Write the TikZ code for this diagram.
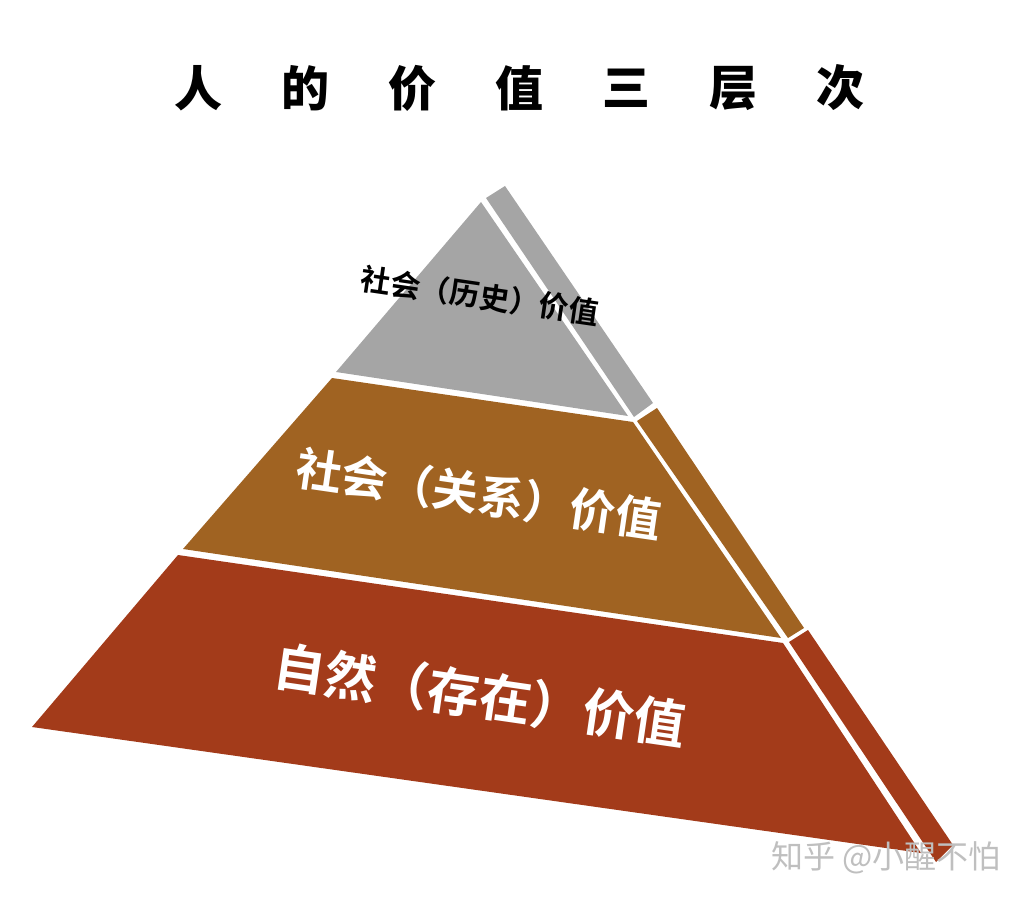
\documentclass[tikz,border=0pt]{standalone}
\usepackage{fontspec}
\newfontfamily\cjk{Noto Sans CJK SC}[BoldFont={Noto Sans CJK SC Bold}]
\newfontfamily\cjkheavy{Noto Sans CJK SC Black}
\definecolor{stoneGray}{RGB}{165,165,165}
\definecolor{clayBrown}{RGB}{160,99,34}
\definecolor{rustRed}{RGB}{163,59,26}

\begin{document}
\begin{tikzpicture}[x=1pt,y=-1pt,
    title char/.style={font=\cjkheavy\fontsize{48}{48}\selectfont, inner sep=0pt},
    layer text/.style={font=\cjk\bfseries, inner sep=0pt, rotate=-8.3}]
  \useasboundingbox (0,0) rectangle (1028,904);

  % top layer
  \coordinate (A) at (481,202);
  \coordinate (B) at (628,416);
  \coordinate (C) at (336,372);
  \coordinate (As) at (486,198);
  \coordinate (Ar) at (505,186);
  \coordinate (Br) at (653,403);
  \coordinate (Bs) at (634,417);
  \fill[stoneGray] (A) -- (B) -- (C) -- cycle;
  \fill[stoneGray] (As) -- (Ar) -- (Br) -- (Bs) -- cycle;

  % middle layer
  \coordinate (D) at (332,378);
  \coordinate (E) at (633,422);
  \coordinate (F) at (781,638);
  \coordinate (G) at (183,549);
  \coordinate (Es) at (637,421);
  \coordinate (Er) at (657,408);
  \coordinate (Fr) at (804,628);
  \coordinate (Fs) at (788,638);
  \fill[clayBrown] (D) -- (E) -- (F) -- (G) -- cycle;
  \fill[clayBrown] (Es) -- (Er) -- (Fr) -- (Fs) -- cycle;

  % bottom layer
  \coordinate (H) at (178,555);
  \coordinate (I) at (783,643);
  \coordinate (J) at (921,853);
  \coordinate (K) at (32,727);
  \coordinate (Is) at (789,642);
  \coordinate (Ir) at (808,630);
  \coordinate (Jr) at (953,845);
  \coordinate (Js) at (936,862);
  \fill[rustRed] (H) -- (I) -- (J) -- (K) -- cycle;
  \fill[rustRed] (Is) -- (Ir) -- (Jr) -- (Js) -- cycle;

  % labels
  \node[layer text, font=\cjk\bfseries\fontsize{30}{30}\selectfont, text=black] (top) at (480,296) {社会（历史）价值};
  \node[layer text, font=\cjk\bfseries\fontsize{46}{46}\selectfont, text=white] (mid) at (479,494) {社会（关系）价值};
  \node[layer text, font=\cjk\bfseries\fontsize{52}{52}\selectfont, text=white] (low) at (480,695) {自然（存在）价值};

  \foreach \ch [count=\i from 0] in {人,的,价,值,三,层,次}
    \node[title char] (t\i) at (198+107*\i,88) {\ch};

  \node[font=\cjk\fontsize{32}{32}\selectfont, text=black!25, anchor=east, inner sep=0pt] (mark) at (1001,858) {知乎 @小醒不怕};
\end{tikzpicture}
\end{document}
